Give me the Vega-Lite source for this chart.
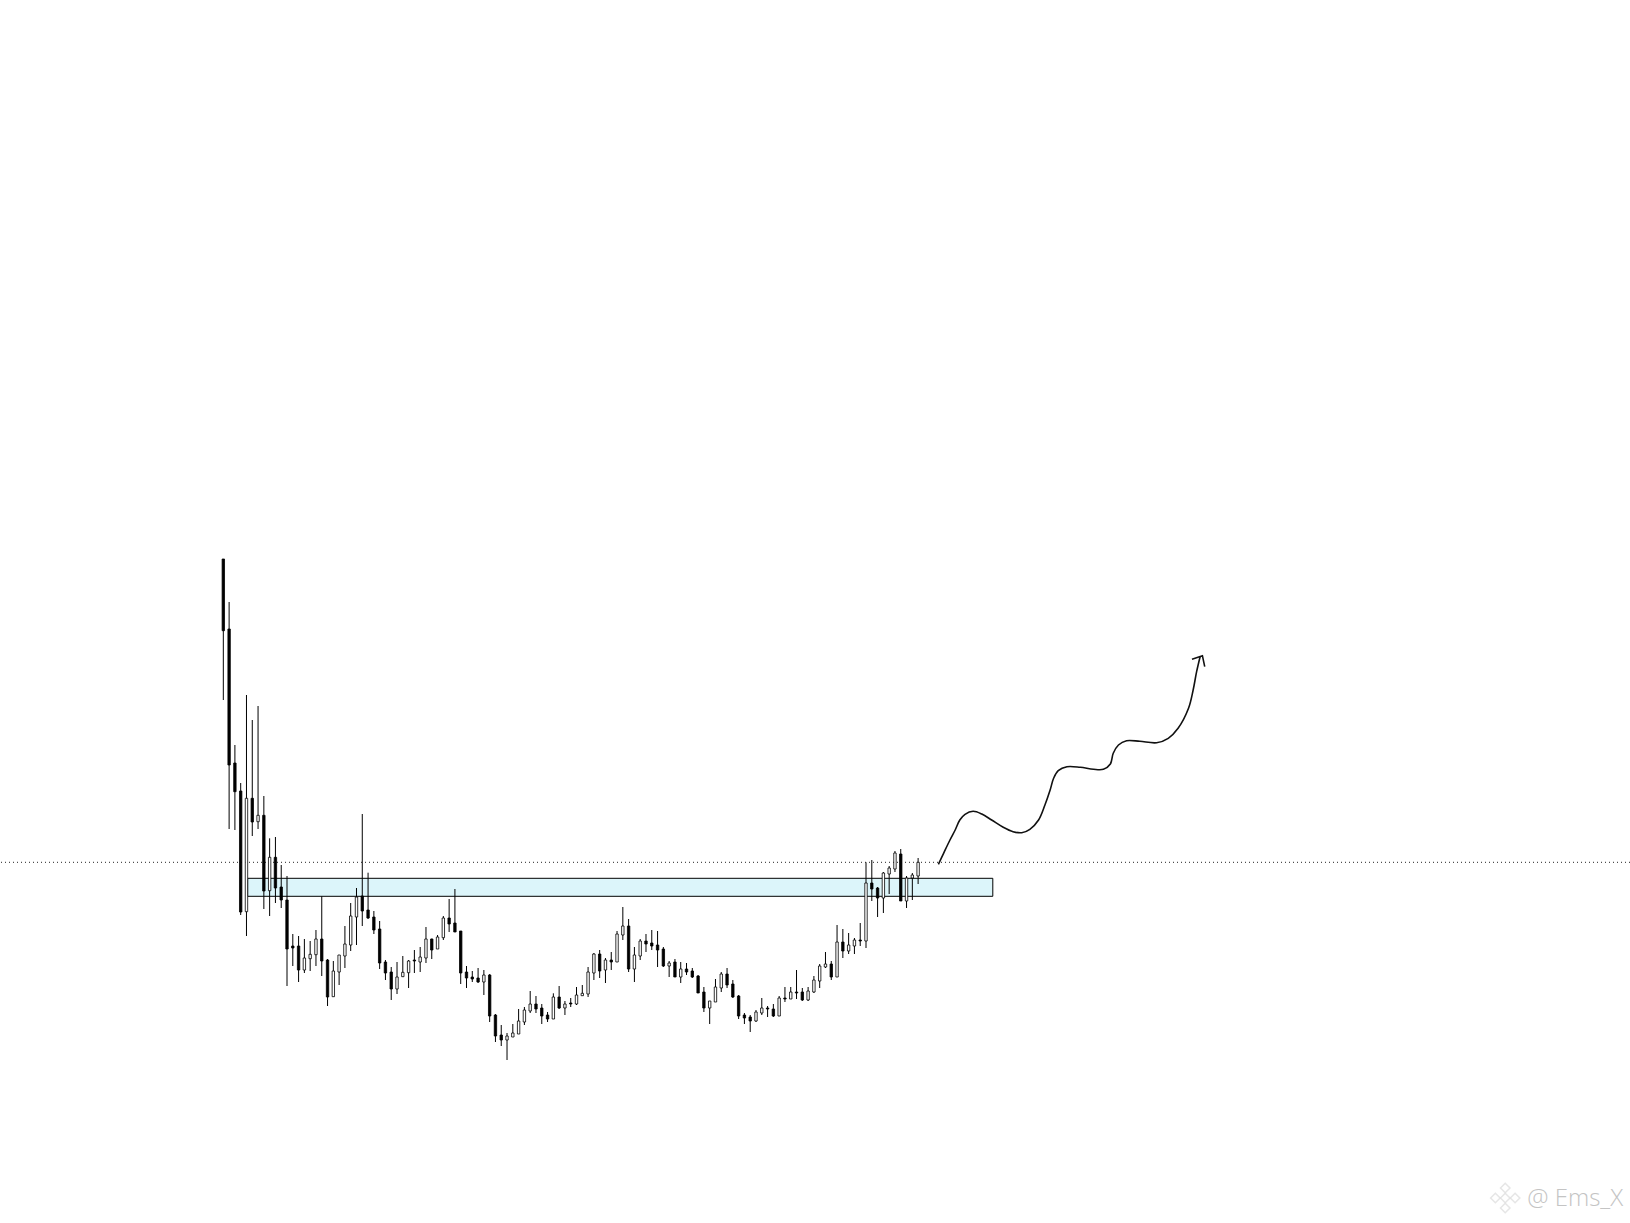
{"$schema":"https://vega.github.io/schema/vega-lite/v6.json","width":1630,"height":1223,"padding":0,"autosize":"none","background":"white","config":{"view":{"stroke":null}},
"datasets":{
"candles":[
{"i":0,"h":664,"top":664,"bot":592.3,"l":523,"t":"down"},{"i":1,"h":621,"top":594,"bot":458,"l":394,"t":"down"},{"i":2,"h":478,"top":460,"bot":431.3,"l":393,"t":"down"},{"i":3,"h":440,"top":432,"bot":311,"l":308,"t":"down"},{"i":4,"h":528,"top":424.7,"bot":311.3,"l":287,"t":"up"},{"i":5,"h":503,"top":424.7,"bot":401,"l":387,"t":"down"},{"i":6,"h":517,"top":407.7,"bot":401.3,"l":394,"t":"up"},{"i":7,"h":427,"top":407.7,"bot":332,"l":314,"t":"down"},{"i":8,"h":384.7,"top":365.7,"bot":332.3,"l":307,"t":"up"},{"i":9,"h":386,"top":365.7,"bot":335,"l":320,"t":"down"},
{"i":10,"h":358,"top":336,"bot":323,"l":315,"t":"down"},{"i":11,"h":347,"top":323,"bot":274,"l":237,"t":"down"},{"i":12,"h":289,"top":277,"bot":275,"l":257,"t":"down"},{"i":13,"h":287,"top":277,"bot":253,"l":241,"t":"down"},{"i":14,"h":284,"top":265,"bot":253,"l":250,"t":"up"},{"i":15,"h":282,"top":268.7,"bot":264.3,"l":252,"t":"up"},{"i":16,"h":293,"top":284,"bot":268.3,"l":257,"t":"up"},{"i":17,"h":326.7,"top":284,"bot":262,"l":247,"t":"down"},{"i":18,"h":264,"top":263,"bot":226,"l":217,"t":"down"},{"i":19,"h":262,"top":252,"bot":226.3,"l":226.3,"t":"up"},
{"i":20,"h":268,"top":268,"bot":251,"l":238,"t":"up"},{"i":21,"h":297,"top":279,"bot":267,"l":255,"t":"up"},{"i":22,"h":320,"top":307,"bot":278,"l":272,"t":"up"},{"i":23,"h":335,"top":326,"bot":306,"l":278,"t":"up"},{"i":24,"h":409,"top":327,"bot":312,"l":297,"t":"down"},{"i":25,"h":350.3,"top":313,"bot":305,"l":304,"t":"down"},{"i":26,"h":312,"top":306,"bot":293,"l":289,"t":"down"},{"i":27,"h":302,"top":294,"bot":260,"l":254,"t":"down"},{"i":28,"h":263,"top":261,"bot":250,"l":243,"t":"down"},{"i":29,"h":256,"top":251,"bot":234,"l":223,"t":"down"},
{"i":30,"h":261,"top":246,"bot":234,"l":229,"t":"up"},{"i":31,"h":267,"top":250.7,"bot":246.3,"l":246,"t":"up"},{"i":32,"h":263,"top":262,"bot":250.3,"l":235,"t":"up"},{"i":33,"h":273,"top":263,"bot":262,"l":250,"t":"down"},{"i":34,"h":276,"top":266,"bot":261,"l":251,"t":"up"},{"i":35,"h":296,"top":284,"bot":265,"l":260,"t":"up"},{"i":36,"h":284.3,"top":284,"bot":273,"l":264,"t":"down"},{"i":37,"h":288,"top":286,"bot":274,"l":274,"t":"up"},{"i":38,"h":307,"top":305,"bot":285.3,"l":283,"t":"up"},{"i":39,"h":324,"top":305,"bot":299,"l":291,"t":"down"},
{"i":40,"h":334,"top":300,"bot":291,"l":291,"t":"down"},{"i":41,"h":292,"top":292,"bot":250,"l":239,"t":"down"},{"i":42,"h":257,"top":251,"bot":245,"l":235,"t":"down"},{"i":43,"h":252,"top":246,"bot":244,"l":241,"t":"down"},{"i":44,"h":255,"top":245,"bot":241,"l":240,"t":"down"},{"i":45,"h":253,"top":248,"bot":241,"l":228,"t":"up"},{"i":46,"h":249,"top":248,"bot":207,"l":201,"t":"down"},{"i":47,"h":209,"top":208,"bot":187,"l":181,"t":"down"},{"i":48,"h":198,"top":188,"bot":183,"l":177,"t":"down"},{"i":49,"h":190,"top":187,"bot":183,"l":163,"t":"up"},
{"i":50,"h":199,"top":190,"bot":186,"l":186,"t":"up"},{"i":51,"h":214,"top":202,"bot":189,"l":189,"t":"up"},{"i":52,"h":216,"top":213,"bot":201,"l":198,"t":"up"},{"i":53,"h":232,"top":219,"bot":212,"l":210,"t":"up"},{"i":54,"h":227,"top":219,"bot":214,"l":210,"t":"down"},{"i":55,"h":219,"top":215,"bot":207,"l":199,"t":"down"},{"i":56,"h":211,"top":208,"bot":204,"l":201,"t":"down"},{"i":57,"h":229.7,"top":226,"bot":204,"l":204,"t":"up"},{"i":58,"h":237,"top":226,"bot":215,"l":214,"t":"down"},{"i":59,"h":222,"top":219,"bot":215,"l":208,"t":"up"},
{"i":60,"h":225,"top":220,"bot":219,"l":216,"t":"down"},{"i":61,"h":236,"top":228,"bot":219,"l":218,"t":"up"},{"i":62,"h":238,"top":229.7,"bot":227.3,"l":227.3,"t":"up"},{"i":63,"h":256,"top":251,"bot":229,"l":226,"t":"up"},{"i":64,"h":270,"top":269,"bot":250,"l":243,"t":"up"},{"i":65,"h":273,"top":269,"bot":252,"l":245,"t":"down"},{"i":66,"h":265,"top":263,"bot":253,"l":240,"t":"up"},{"i":67,"h":271,"top":263,"bot":261,"l":253,"t":"down"},{"i":68,"h":292,"top":289,"bot":261,"l":261,"t":"up"},{"i":69,"h":316,"top":297,"bot":288,"l":283,"t":"up"},
{"i":70,"h":304,"top":297,"bot":254,"l":251,"t":"down"},{"i":71,"h":276,"top":268,"bot":254,"l":241,"t":"up"},{"i":72,"h":284,"top":282,"bot":267,"l":263,"t":"up"},{"i":73,"h":289,"top":282,"bot":279,"l":271,"t":"down"},{"i":74,"h":293,"top":280,"bot":277,"l":273,"t":"down"},{"i":75,"h":292,"top":278,"bot":273,"l":256,"t":"down"},{"i":76,"h":276,"top":274,"bot":257,"l":256,"t":"down"},{"i":77,"h":262,"top":260,"bot":257,"l":246,"t":"up"},{"i":78,"h":264,"top":261,"bot":246,"l":246,"t":"down"},{"i":79,"h":261,"top":254,"bot":246,"l":240,"t":"up"},
{"i":80,"h":260,"top":254,"bot":251,"l":248,"t":"down"},{"i":81,"h":255,"top":252,"bot":246,"l":245,"t":"down"},{"i":82,"h":248,"top":247,"bot":230,"l":230,"t":"down"},{"i":83,"h":236,"top":231,"bot":215,"l":211,"t":"down"},{"i":84,"h":222,"top":222,"bot":215,"l":199,"t":"up"},{"i":85,"h":244,"top":236,"bot":221,"l":221,"t":"up"},{"i":86,"h":251,"top":249,"bot":235,"l":231,"t":"up"},{"i":87,"h":255,"top":249,"bot":238,"l":235,"t":"down"},{"i":88,"h":243,"top":239,"bot":226,"l":225,"t":"down"},{"i":89,"h":228,"top":227,"bot":207,"l":204,"t":"down"},
{"i":90,"h":210,"top":208,"bot":205,"l":199,"t":"down"},{"i":91,"h":208,"top":206,"bot":202,"l":191,"t":"down"},{"i":92,"h":213,"top":211,"bot":202,"l":201,"t":"up"},{"i":93,"h":225,"top":215,"bot":210,"l":208,"t":"up"},{"i":94,"h":217,"top":215,"bot":214,"l":206,"t":"down"},{"i":95,"h":219,"top":214,"bot":207,"l":206,"t":"down"},{"i":96,"h":227,"top":225,"bot":207,"l":207,"t":"up"},{"i":97,"h":236,"top":225,"bot":224,"l":221,"t":"down"},{"i":98,"h":236,"top":231,"bot":224,"l":224,"t":"up"},{"i":99,"h":253,"top":231,"bot":230,"l":224,"t":"down"},
{"i":100,"h":235,"top":231,"bot":223,"l":222,"t":"down"},{"i":101,"h":236,"top":232,"bot":223,"l":222,"t":"up"},{"i":102,"h":247,"top":243,"bot":231,"l":230,"t":"up"},{"i":103,"h":259,"top":257,"bot":242,"l":235,"t":"up"},{"i":104,"h":271,"top":259,"bot":256,"l":255,"t":"up"},{"i":105,"h":262,"top":259,"bot":246,"l":243,"t":"down"},{"i":106,"h":298,"top":281,"bot":246,"l":246,"t":"up"},{"i":107,"h":294,"top":281,"bot":272,"l":265,"t":"down"},{"i":108,"h":290,"top":278,"bot":272,"l":269,"t":"up"},{"i":109,"h":285,"top":283,"bot":277,"l":269,"t":"up"},
{"i":110,"h":300,"top":283,"bot":282,"l":277,"t":"down"},{"i":111,"h":360.7,"top":340,"bot":282,"l":275,"t":"up"},{"i":112,"h":363,"top":340,"bot":334,"l":322,"t":"down"},{"i":113,"h":336,"top":335,"bot":325,"l":306,"t":"down"},{"i":114,"h":351,"top":350,"bot":325,"l":310,"t":"up"},{"i":115,"h":357,"top":355,"bot":349,"l":329,"t":"up"},{"i":116,"h":372,"top":370,"bot":354,"l":351,"t":"up"},{"i":117,"h":374,"top":369,"bot":322,"l":322,"t":"down"},{"i":118,"h":347,"top":345,"bot":322,"l":315,"t":"up"},{"i":119,"h":350,"top":348,"bot":345,"l":323,"t":"up"},
{"i":120,"h":365,"top":360.7,"bot":347,"l":339,"t":"up"}],
"path":[{"i":123.5,"p":358.7},{"i":124.4,"p":369.7},{"i":125.5,"p":383},{"i":126.4,"p":393},{"i":127.2,"p":403},{"i":128.1,"p":408.7},{"i":129.5,"p":411.7},{"i":131,"p":409},{"i":132.7,"p":403},{"i":134.7,"p":395.7},{"i":136.4,"p":391.3},{"i":137.9,"p":390.3},{"i":139.3,"p":393.7},{"i":140.8,"p":403},{"i":141.9,"p":418},{"i":142.8,"p":433},{"i":143.4,"p":444.7},{"i":144.2,"p":452.3},{"i":145.7,"p":456.3},{"i":148,"p":455.7},{"i":150.3,"p":453.7},{"i":152,"p":453.7},{"i":153.2,"p":459},{"i":153.7,"p":469.7},{"i":154.6,"p":478},{"i":156,"p":482.3},{"i":158.3,"p":481.7},{"i":161.2,"p":480.3},{"i":163.2,"p":484.7},{"i":164.9,"p":494.7},{"i":166.7,"p":514.7},{"i":167.5,"p":533},{"i":168.1,"p":551.3},{"i":168.7,"p":566.3}],
"head":[{"i":167.3,"p":563.7},{"i":169.1,"p":567.3},{"i":169.5,"p":556.3}],
"logo":[{"i":219.7,"p":25},{"i":221.4,"p":25},{"i":223.1,"p":25},{"i":221.4,"p":35},{"i":221.4,"p":15}]
},
"layer":[
{"data":{"values":[{"a":4.2,"b":132.9,"lo":326.7,"hi":344.7}]},"mark":{"type":"rect","fill":"#dcf5fa","stroke":"#000","strokeWidth":1},"encoding":{"x":{"field":"a","type":"quantitative","scale":{"domain":[-38.57,242.95],"nice":false,"zero":false,"padding":0},"axis":null},"x2":{"field":"b"},"y":{"field":"lo","type":"quantitative","scale":{"domain":[0,1223],"nice":false,"zero":false},"axis":null},"y2":{"field":"hi"}}},
{"data":{"values":[{"p":360.7}]},"mark":{"type":"rule","stroke":"#222","strokeWidth":1,"strokeDash":[1,3]},"encoding":{"y":{"field":"p","type":"quantitative","scale":{"domain":[0,1223],"nice":false,"zero":false},"axis":null}}},
{"data":{"name":"candles"},"mark":{"type":"rule","stroke":"#000","strokeWidth":1},"encoding":{"x":{"field":"i","type":"quantitative","scale":{"domain":[-38.57,242.95],"nice":false,"zero":false,"padding":0},"axis":null},"y":{"field":"l","type":"quantitative","scale":{"domain":[0,1223],"nice":false,"zero":false},"axis":null},"y2":{"field":"h"}}},
{"data":{"name":"candles"},"mark":{"type":"bar","size":2.4,"stroke":"#000","strokeWidth":0.8},"encoding":{"x":{"field":"i","type":"quantitative","scale":{"domain":[-38.57,242.95],"nice":false,"zero":false,"padding":0},"axis":null},"y":{"field":"bot","type":"quantitative","scale":{"domain":[0,1223],"nice":false,"zero":false},"axis":null},"y2":{"field":"top"},"fill":{"field":"t","type":"nominal","scale":{"domain":["up","down"],"range":["#fff","#000"]},"legend":null}}},
{"data":{"name":"path"},"mark":{"type":"line","stroke":"#111","strokeWidth":1.6,"interpolate":"catmull-rom"},"encoding":{"x":{"field":"i","type":"quantitative","scale":{"domain":[-38.57,242.95],"nice":false,"zero":false,"padding":0},"axis":null},"y":{"field":"p","type":"quantitative","scale":{"domain":[0,1223],"nice":false,"zero":false},"axis":null}}},
{"data":{"name":"head"},"mark":{"type":"line","stroke":"#111","strokeWidth":1.6},"encoding":{"x":{"field":"i","type":"quantitative","scale":{"domain":[-38.57,242.95],"nice":false,"zero":false,"padding":0},"axis":null},"y":{"field":"p","type":"quantitative","scale":{"domain":[0,1223],"nice":false,"zero":false},"axis":null}}},
{"data":{"name":"logo"},"mark":{"type":"point","shape":"diamond","size":90,"filled":false,"stroke":"#dcdcdc","strokeWidth":1.5},"encoding":{"x":{"field":"i","type":"quantitative","scale":{"domain":[-38.57,242.95],"nice":false,"zero":false,"padding":0},"axis":null},"y":{"field":"p","type":"quantitative","scale":{"domain":[0,1223],"nice":false,"zero":false},"axis":null}}},
{"data":{"values":[{"i":225.2,"p":24,"s":"@ Ems_X"}]},"mark":{"type":"text","align":"left","baseline":"middle","font":"Open Sans","fontSize":24,"fontWeight":300,"fill":"#c4c4c4"},"encoding":{"x":{"field":"i","type":"quantitative","scale":{"domain":[-38.57,242.95],"nice":false,"zero":false,"padding":0},"axis":null},"y":{"field":"p","type":"quantitative","scale":{"domain":[0,1223],"nice":false,"zero":false},"axis":null},"text":{"field":"s"}}}
]}
